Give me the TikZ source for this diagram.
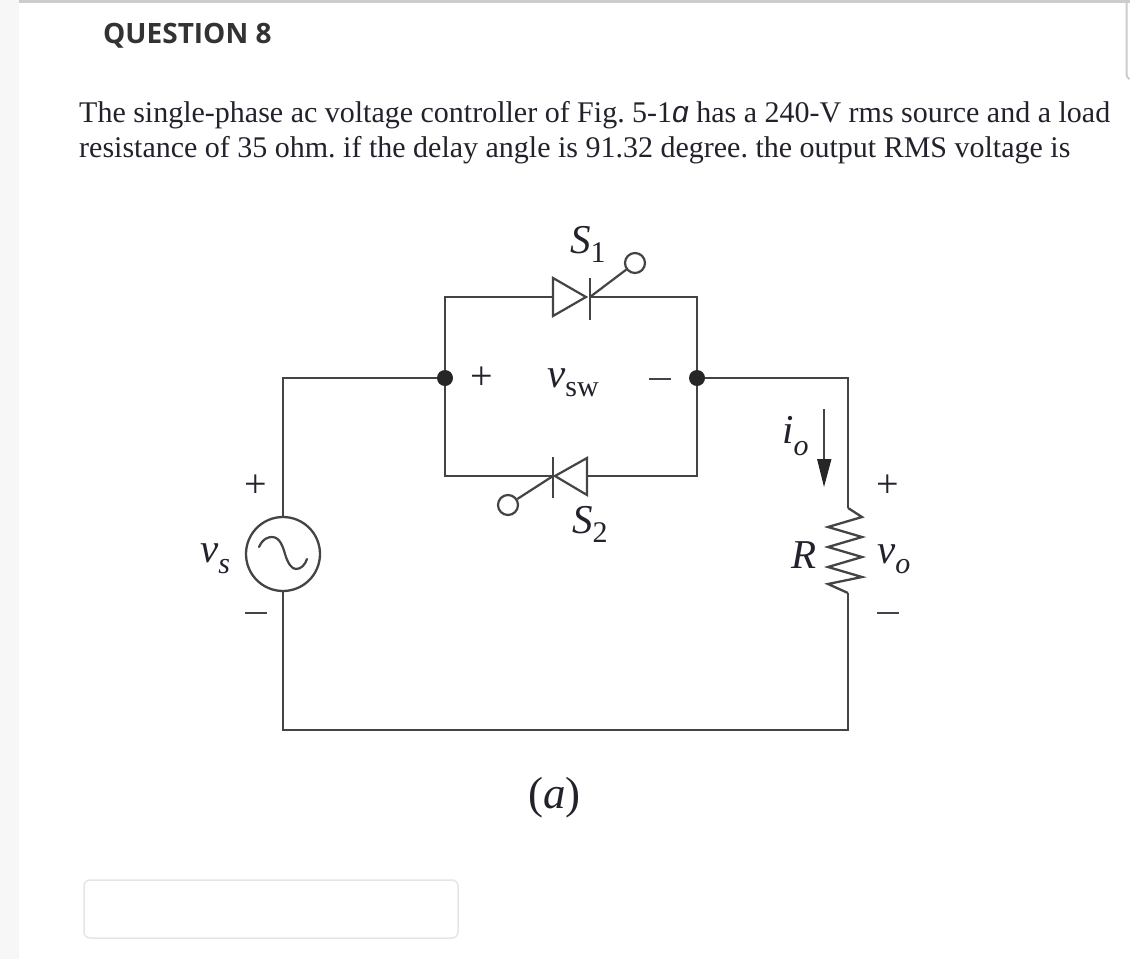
\documentclass[tikz,border=0pt]{standalone}
\usepackage{fontspec}
\setmainfont{Liberation Serif}
\newfontfamily\titlefont{Open Sans}
\newfontfamily\aafont{Liberation Sans}
\definecolor{wire}{HTML}{444444}
\definecolor{ink}{HTML}{22222C}
\newcommand{\mainsz}{\fontsize{41}{41}\selectfont}
\newcommand{\subsc}[2]{\raisebox{-#1pt}{\fontsize{30}{30}\selectfont #2}}
\tikzset{
  wirepath/.style={draw=wire,line width=2.7pt,line join=miter},
  thin wire/.style={draw=wire,line width=2.2pt},
  lbl/.style={inner sep=0pt,anchor=base west,text=ink,font=\mainsz},
  signnode/.style={inner sep=0pt,text=ink,font=\fontsize{40}{40}\selectfont},
  minusnode/.style={inner sep=0pt,fill=ink!85,minimum width=22pt,minimum height=2pt},
  body/.style={inner sep=0pt,anchor=base west,text=ink,font=\fontsize{29.99}{29.99}\selectfont\frenchspacing},
  dotnode/.style={circle,fill=black!85,inner sep=0pt,minimum size=16pt},
  gatenode/.style={circle,draw=wire,line width=2.2pt,inner sep=0pt,minimum size=20pt,fill=white},
  srcnode/.style={circle,draw=wire,line width=2.3pt,inner sep=0pt,minimum size=74pt,fill=white}
}
\begin{document}
\begin{tikzpicture}[x=1pt,y=-1pt]
\useasboundingbox (0,0) rectangle (1130,959);
\fill[white] (0,0) rectangle (1130,959);
\fill[black!3] (0,0) rectangle (19,959);
\fill[black!20] (19,0) rectangle (1130,2.5);
\draw[black!20,line width=2pt] (1126.5,0) -- (1126.5,74) arc[start angle=180,end angle=120,radius=6];
\node[inner sep=0pt,anchor=base west,text=black!80,font=\titlefont\bfseries\fontsize{28}{28}\selectfont] (title) at (103,43) {QUESTION 8};
\node[body] (line1) at (79,122) {The single-phase ac voltage controller of Fig. 5-1{\aafont\itshape ɑ} has a 240-V rms source and a load};
\node[body] (line2) at (79,157) {resistance of 35 ohm. if the delay angle is 91.32 degree. the output RMS voltage is};
\node[draw=black!10,line width=1.5pt,rounded corners=6pt,minimum width=374pt,minimum height=58pt,inner sep=0pt] (answer) at (271,909) {};

% devices and junctions
\node[srcnode] (src) at (283,554) {};
\coordinate (jlc) at (445,378);
\coordinate (jrc) at (697,378);
\coordinate (s1in) at (553,297);
\coordinate (s1k) at (590,297);
\coordinate (s2in) at (587,476);
\coordinate (s2k) at (553,476);
\coordinate (rtop) at (848,508);
\coordinate (rbot) at (848,593);

% wires
\draw[wirepath] (jlc) -- (445,297) -- (s1in);
\draw[wirepath] (s1k) -- (697,297) -- (jrc);
\draw[wirepath] (jlc) -- (445,476) -- (s2k);
\draw[wirepath] (s2in) -- (697,476) -- (jrc);
\draw[wirepath] (jlc) -- (283,378) -- (src.north);
\draw[wirepath] (jrc) -- (848,378) -- (rtop);
\draw[wirepath] (src.south) -- (283,730) -- (848,730) -- (rbot);
\node[dotnode] (jl) at (jlc) {};
\node[dotnode] (jr) at (jrc) {};

% S1
\draw[thin wire,line join=miter] (s1in) -- (553,278) -- (586,297) -- (553,316) -- cycle;
\draw[thin wire] (590,278) -- (590,320);
\node[gatenode] (g1) at (635,263) {};
\draw[thin wire] (s1k) -- (g1);
% S2
\draw[thin wire,line join=miter] (s2in) -- (587,458) -- (555,476) -- (587,495) -- cycle;
\draw[thin wire] (553,457) -- (553,498);
\node[gatenode] (g2) at (508,505) {};
\draw[thin wire] (s2k) -- (g2);

% source sine
\draw[thin wire,line cap=round] (259,547) .. controls (263,538) and (269,537) .. (272,537)
  .. controls (280,537) and (283,547) .. (285,554)
  .. controls (288,564) and (292,569) .. (296,569) .. controls (301,569) and (305,565) .. (307,559);

% resistor
\draw[wirepath,line width=2.3pt,line join=miter] (rtop) -- (862,517) -- (828,527) -- (862,537) -- (828,547) -- (862,557) -- (828,567) -- (862,577) -- (828,584) -- (rbot);

% current arrow
\coordinate (iotop) at (824,409);
\coordinate (iotip) at (824,487);
\draw[thin wire] (iotop) -- (824,462);
\fill[black!85] (817,459) -- (831.5,459) -- (iotip) -- cycle;

% labels
\node[lbl] (ls1) at (570,253) {\textit{S}\subsc{9}{1}};
\node[lbl] (ls2) at (572,533) {\textit{S}\subsc{9}{2}};
\node[lbl] (lvsw) at (547,387) {\textit{v}\subsc{9}{sw}};
\node[signnode] (lplus) at (482,378) {+};
\node[minusnode] (lminus) at (660,379) {};
\node[lbl] (lvs) at (200,562) {\textit{v}\subsc{11}{\textit{s}}};
\node[signnode] (lsp) at (256,486) {+};
\node[minusnode] (lsm) at (256,613) {};
\node[lbl] (lio) at (782,443) {\textit{i}\subsc{12}{\textit{o}}};
\node[lbl] (lr) at (791,568) {\textit{R}};
\node[signnode] (lop) at (888,486) {+};
\node[lbl] (lvo) at (877,563) {\textit{v}\subsc{10}{\textit{o}}};
\node[minusnode] (lom) at (888,613) {};
\node[lbl,font=\fontsize{45}{45}\selectfont] (la) at (528,808) {(\textit{a})};
\end{tikzpicture}
\end{document}
